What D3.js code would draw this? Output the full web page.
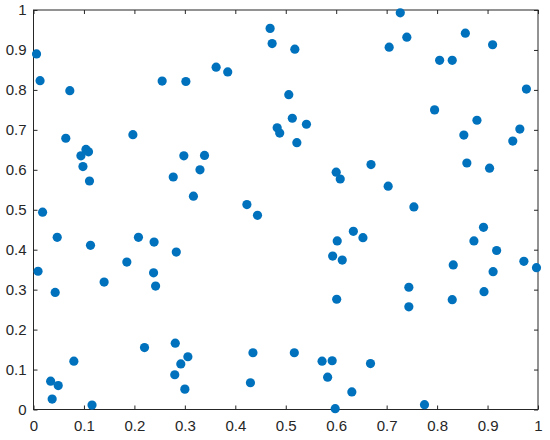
<!DOCTYPE html>
<html>
<head>
<meta charset="utf-8">
<script src="https://cdn.jsdelivr.net/npm/d3@7"></script>
<style>
  body { margin: 0; background: #fff; }
  svg text { font-family: "Liberation Sans", Arial, sans-serif; }
</style>
</head>
<body>
<svg id="chart" width="550" height="440"></svg>
<script>

// scatter points
const xs = [0.006, 0.013, 0.072, 0.064, 0.094, 0.104, 0.109, 0.098, 0.111, 0.018,
  0.197, 0.255, 0.302, 0.277, 0.298, 0.317, 0.330, 0.469, 0.473, 0.518,
  0.362, 0.385, 0.506, 0.513, 0.483, 0.488, 0.541, 0.522, 0.339, 0.423,
  0.444, 0.600, 0.608, 0.669, 0.727, 0.740, 0.705, 0.856, 0.910, 0.805,
  0.830, 0.977, 0.795, 0.879, 0.853, 0.964, 0.950, 0.859, 0.904, 0.703,
  0.754, 0.047, 0.113, 0.208, 0.239, 0.283, 0.009, 0.043, 0.140, 0.185,
  0.238, 0.242, 0.220, 0.281, 0.080, 0.034, 0.049, 0.037, 0.116, 0.280,
  0.292, 0.306, 0.300, 0.634, 0.653, 0.602, 0.593, 0.612, 0.601, 0.435,
  0.517, 0.572, 0.592, 0.668, 0.583, 0.430, 0.631, 0.598, 0.892, 0.873,
  0.918, 0.832, 0.972, 0.997, 0.911, 0.744, 0.893, 0.830, 0.744, 0.775]

const ys = [0.890, 0.823, 0.798, 0.679, 0.635, 0.651, 0.645, 0.608, 0.572, 0.494,
  0.688, 0.822, 0.821, 0.582, 0.635, 0.534, 0.600, 0.954, 0.916, 0.902,
  0.857, 0.845, 0.788, 0.729, 0.705, 0.692, 0.714, 0.668, 0.636, 0.513,
  0.486, 0.594, 0.577, 0.613, 0.993, 0.932, 0.907, 0.942, 0.913, 0.874,
  0.874, 0.802, 0.750, 0.724, 0.687, 0.702, 0.672, 0.617, 0.604, 0.559,
  0.507, 0.431, 0.411, 0.431, 0.419, 0.394, 0.346, 0.293, 0.319, 0.369,
  0.342, 0.309, 0.155, 0.166, 0.121, 0.071, 0.060, 0.026, 0.011, 0.087,
  0.114, 0.132, 0.051, 0.446, 0.430, 0.422, 0.384, 0.374, 0.276, 0.142,
  0.142, 0.121, 0.122, 0.115, 0.081, 0.067, 0.044, 0.002, 0.456, 0.422,
  0.398, 0.362, 0.371, 0.355, 0.345, 0.306, 0.295, 0.275, 0.257, 0.012]

const xTicks = [0, 0.1, 0.2, 0.3, 0.4, 0.5, 0.6, 0.7, 0.8, 0.9, 1]
const yTicks = [0, 0.1, 0.2, 0.3, 0.4, 0.5, 0.6, 0.7, 0.8, 0.9, 1]

const svg = d3.select("#chart")
const m = { left: 33.5, right: 538, top: 10, bottom: 409.5 }
const axisColor = "#262626"

let x = d3.scaleLinear().domain([0, 1]).range([m.left, m.right])
let y = d3.scaleLinear().domain([0, 1]).range([m.bottom, m.top])

const fmt = d => d === 0 || d === 1 ? String(d) : d3.format(".1f")(d)

// box
svg.append("rect")
    .attr("x", m.left).attr("y", m.top)
    .attr("width", m.right - m.left).attr("height", m.bottom - m.top)
    .attr("fill", "none").attr("stroke", axisColor).attr("stroke-width", 1)

let axes = [
  [d3.axisBottom(x).tickValues(xTicks).tickSizeInner(-4).tickSizeOuter(0).tickPadding(11).tickFormat(fmt), `translate(0,${m.bottom})`],
  [d3.axisTop(x).tickValues(xTicks).tickSizeInner(-4).tickSizeOuter(0).tickFormat(""), `translate(0,${m.top})`],
  [d3.axisLeft(y).tickValues(yTicks).tickSizeInner(-4).tickSizeOuter(0).tickPadding(7).tickFormat(fmt), `translate(${m.left},0)`],
  [d3.axisRight(y).tickValues(yTicks).tickSizeInner(-4).tickSizeOuter(0).tickFormat(""), `translate(${m.right},0)`]
]

axes.forEach(([ax, tr]) => {
  let g = svg.append("g").attr("transform", tr).call(ax)
  g.select(".domain").remove()
  g.selectAll("line").attr("stroke", axisColor)
  g.selectAll("text").attr("fill", axisColor).style("font-size", "15px")
})

svg.append("g").selectAll("circle")
    .data(xs.map((v, i) => [v, ys[i]]))
    .enter().append("circle")
    .attr("cx", d => x(d[0]))
    .attr("cy", d => y(d[1]))
    .attr("r", 4.6)
    .attr("fill", "#0072BD")

</script>
</body>
</html>
